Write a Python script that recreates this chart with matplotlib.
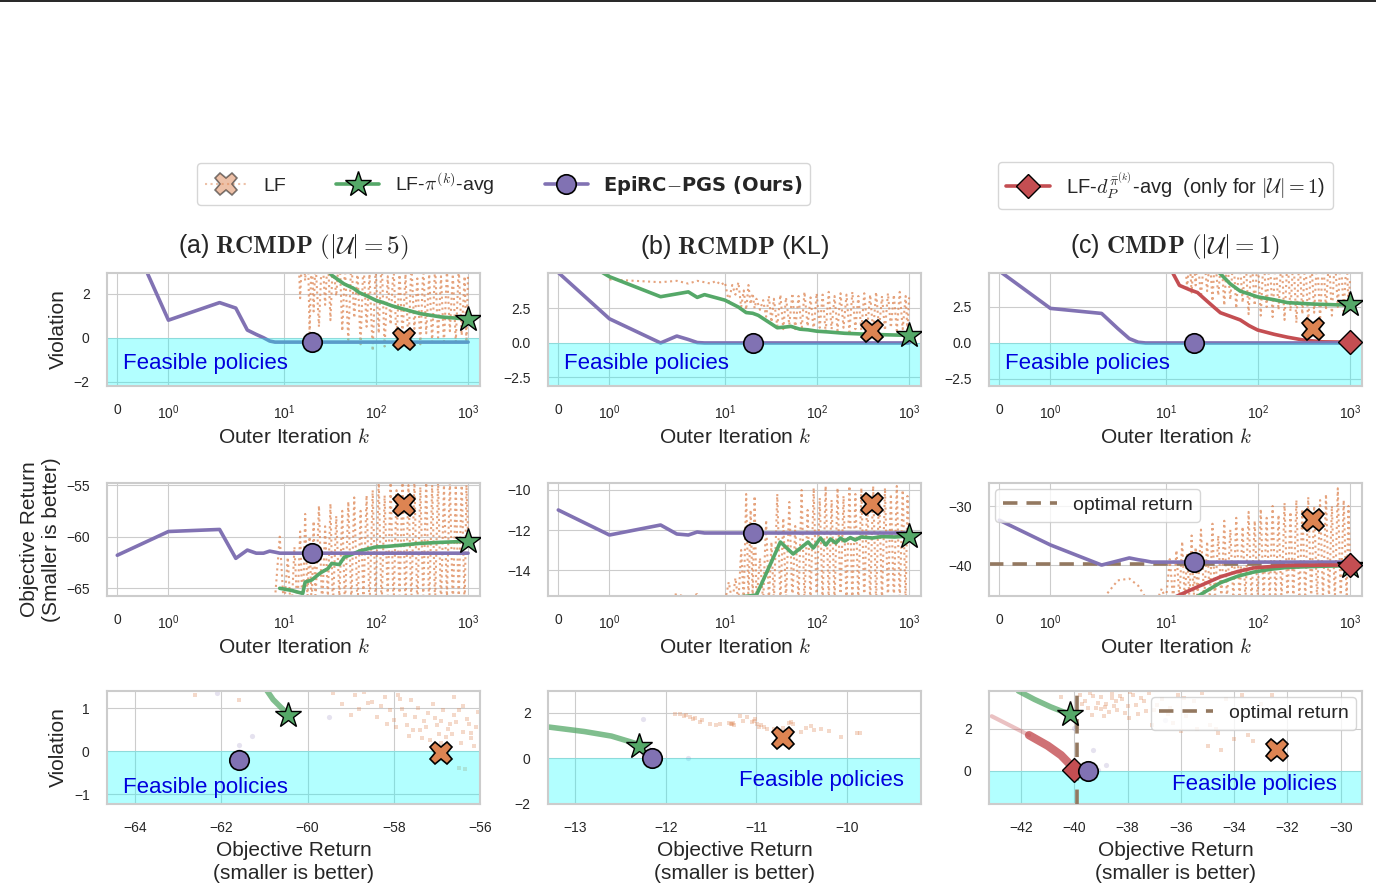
import matplotlib.pyplot as plt
import seaborn as sns
from matplotlib.lines import Line2D
from matplotlib.ticker import NullLocator

sns.set_style("whitegrid")
plt.rcParams['font.family'] = ['Liberation Sans', 'DejaVu Sans']
plt.rcParams['mathtext.fontset'] = 'cm'

# colours
LF_C = '#dd8452'
GREEN = '#55a868'
PURPLE = '#8172b3'
RED = '#c44e52'
BROWN = '#937860'
FEAS_TXT = '#0000dd'

# ---------------- data ----------------
# LF iterates (shared outer iteration grid)
lf_k = [1, 2, 3, 4, 5, 6, 7, 8, 9, 10,
        11, 12, 13, 14, 15, 16, 17, 18, 19, 20,
        21, 22, 24, 26, 28, 30, 32, 34, 37, 40,
        43, 46, 50, 54, 58, 63, 68, 73, 79, 85,
        92, 99, 107, 115, 124, 134, 144, 155, 167, 180,
        194, 209, 225, 242, 261, 281, 303, 326, 351, 378,
        407, 438, 472, 508, 547, 589, 634, 683, 735, 791,
        852, 917, 960, 1000]

a_lf_viol = [5, 5, 5, 5, 5, 5, 5, 5, 5, 5,
             5, 5, 5, 5, 1.8, 4.5, 2.6, 5, 0.2, 4,
             1.2, 3.5, 0.5, 4, 1.5, 3.8, 0.8, 3.5, 1.9, 4.0,
             0.3, 3.2, -0.1, 3.6, 0.9, 3.0, -0.3, 3.5, 0.5, 2.9,
             -0.6, 3.2, 0.2, 3.6, -0.4, 2.8, 0.6, 3.3, -0.2, 3.0,
             0.1, 2.9, -0.4, 3.4, 0.4, 2.7, -0.3, 3.2, 0.2, 2.9,
             -0.2, 3.3, 0.0, 2.8, -0.3, 3.1, 0.3, 2.9, -0.2, 3.2,
             0.1, 2.8, -0.2, 3.0]
a_lf_ret = [-70, -70, -70, -70, -70, -70, -70, -66, -60, -67,
            -62, -68, -61, -67, -59.5, -68, -57.8, -66, -60, -67,
            -58.5, -66.5, -57, -67, -59, -66, -56.8, -67, -58, -66,
            -57.5, -67, -56.6, -66.5, -56.2, -67, -57.5, -66, -56, -67,
            -55.5, -66.5, -54.5, -67, -56, -66, -54.5, -67, -55.5, -66,
            -54.5, -67, -55, -66.5, -54.5, -67, -55.2, -66, -54.5, -67,
            -55, -66.5, -54.5, -67, -55, -66, -54.5, -67, -55, -66.5,
            -54.5, -67, -55, -60]

b_lf_viol = [4.6, 4.4, 4.5, 4.3, 4.5, 4.4, 4.3, 4.5, 4.2, 4.4,
             3.0, 4.2, 3.5, 4.4, 2.6, 3.8, 2.4, 4.2, 2.8, 3.6,
             2.5, 3.2, 2.4, 3.1, 1.9, 3.4, 1.5, 3.2, 1.2, 3.5,
             1.0, 3.3, 1.3, 3.6, 1.0, 3.4, 0.9, 3.7, 1.2, 3.3,
             0.9, 3.6, 1.1, 3.5, 0.8, 3.7, 1.0, 3.4, 0.9, 3.6,
             1.1, 3.5, 0.8, 3.7, 1.0, 3.4, 0.9, 3.6, 1.1, 3.5,
             0.8, 3.7, 1.0, 3.4, 0.9, 3.6, 1.1, 3.5, 0.9, 3.7,
             1.0, 3.4, 0.9, 3.3]
b_lf_ret = [-15.5, -15.5, -15.2, -15.4, -15.2, -15.6, -15.5, -15.6, -15.4, -15.6,
            -14.6, -15.6, -14.4, -15.6, -13.0, -15.6, -10.2, -15.6, -11.0, -15.5,
            -10.3, -15.6, -13.4, -15.6, -11.5, -15.6, -12.6, -15.6, -10.2, -15.6,
            -11.4, -15.6, -10.6, -15.6, -11.8, -15.6, -10.0, -15.6, -11.0, -15.6,
            -9.9, -15.6, -10.4, -15.6, -9.8, -15.6, -10.5, -15.6, -9.9, -15.6,
            -10.3, -15.6, -9.8, -15.6, -10.2, -15.6, -9.9, -15.6, -10.4, -15.6,
            -9.8, -15.6, -10.1, -15.6, -9.9, -15.6, -10.2, -15.6, -9.8, -15.6,
            -10.0, -15.6, -10.3, -12.5]

c_lf_viol = [6, 6, 6, 6, 6, 6, 6, 6, 6, 6,
             6, 6, 6, 6, 6, 6, 3.8, 6, 3.5, 6,
             4.0, 6, 3.2, 6, 3.6, 6, 2.9, 6, 3.3, 6,
             2.6, 6, 3.0, 6, 2.4, 6, 2.8, 6, 2.0, 6,
             2.6, 6, 1.9, 6, 2.5, 6, 1.8, 6, 2.3, 6,
             1.6, 6, 2.2, 6, 1.4, 6, 2.0, 6, 1.3, 6,
             2.1, 6, 1.6, 6, 2.3, 6, 1.9, 6, 2.5, 6,
             2.2, 6, 2.6, 4.5]
c_lf_ret = [-47, -46, -42.6, -42.3, -43.5, -45.5, -47, -46, -44, -46,
            -39, -46, -37.5, -46, -36, -46, -38, -46, -35, -46,
            -37, -46, -34, -46, -36, -46, -33, -46, -35, -46,
            -32.5, -46, -34, -46, -32, -46, -33.5, -46, -31, -46,
            -32.5, -46, -30.5, -46, -32, -46, -30, -46, -31.5, -46,
            -29.5, -46, -31, -46, -29, -46, -30.5, -46, -28.5, -46,
            -30, -46, -29, -46, -28, -46, -30, -46, -27, -46,
            -29, -46, -30, -40]

# EpiRC-PGS iterates
pur_k = [0, 1, 2, 3, 4, 5, 6, 7, 8, 9, 10, 20, 1000]
a_pur_viol = [6.0, 0.8, 1.6, 1.35, 0.35, 0.15, 0.0, -0.15, -0.2, -0.2, -0.2, -0.2, -0.2]
a_pur_ret = [-61.8, -59.5, -59.3, -62.1, -61.3, -61.6, -61.6, -61.4, -61.5, -61.6, -61.6, -61.6, -61.6]
b_pur_viol = [5.1, 1.75, 0.0, 0.5, 0.25, 0.03, 0.0, 0.0, 0.0, 0.0, 0.0, 0.0, 0.0]
b_pur_ret = [-11.0, -12.25, -11.75, -12.2, -12.25, -12.1, -12.15, -12.15, -12.15, -12.15, -12.15, -12.15, -12.15]
c_pur_viol = [5.0, 2.4, 2.05, 1.0, 0.3, 0.05, 0.0, 0.0, 0.0, 0.0, 0.0, 0.0, 0.0]
c_pur_ret = [-32.4, -36.6, -40.0, -39.3, -38.8, -39.1, -39.3, -39.5, -39.5, -39.5, -39.5, -39.5, -39.5]

# LF-pi-avg
a_grn_vk = [9, 12, 16, 20, 25, 33, 40, 45, 57, 66, 80, 100, 120, 150, 200, 300, 500, 700, 1000]
a_grn_viol = [7.0, 6.0, 5.0, 4.2, 3.5, 2.85, 2.6, 2.45, 2.25, 2.05, 1.9, 1.7, 1.6, 1.45, 1.3, 1.1, 0.95, 0.9, 0.85]
a_grn_rk = [9, 12, 16, 17, 20, 25, 30, 33, 40, 45, 55, 66, 80, 100, 130, 150, 200, 300, 500, 700, 1000]
a_grn_ret = [-65.0, -65.2, -65.5, -64.4, -64.2, -63.5, -63.1, -62.6, -62.7, -62.0, -61.7,
             -61.4, -61.2, -61.0, -60.95, -60.9, -60.8, -60.65, -60.55, -60.5, -60.45]
b_grn_vk = [0, 1, 2, 4, 5, 6, 10, 14, 17, 20, 23, 30, 37, 45, 52, 65, 80, 100, 130, 200, 300, 500, 1000]
b_grn_viol = [7.0, 4.8, 3.35, 3.7, 3.3, 3.5, 3.1, 2.6, 2.2, 2.15, 2.0, 1.5, 1.1, 1.15, 1.2,
              1.0, 0.95, 0.85, 0.8, 0.7, 0.65, 0.6, 0.55]
b_grn_rk = [14, 18, 22, 40, 55, 80, 91, 109, 125, 140, 160, 180, 200, 230, 260, 300, 400, 500, 700, 1000]
b_grn_ret = [-15.35, -15.3, -15.25, -12.6, -13.2, -12.6, -12.9, -12.4, -12.75, -12.45, -12.65,
             -12.4, -12.55, -12.38, -12.5, -12.35, -12.4, -12.33, -12.35, -12.3]
c_grn_vk = [25, 39, 50, 64, 80, 99, 150, 209, 400, 700, 1000]
c_grn_viol = [6.0, 4.8, 4.1, 3.6, 3.4, 3.2, 3.0, 2.8, 2.7, 2.65, 2.65]
c_grn_rk = [18, 22, 39, 60, 89, 140, 209, 500, 1000]
c_grn_ret = [-47.0, -45.3, -43.0, -41.9, -41.2, -40.7, -40.4, -40.2, -40.1]

# LF-d-avg (CMDP only)
c_red_vk = [10, 12, 14, 18, 22, 28, 33, 39, 50, 64, 80, 99, 150, 209, 312, 500, 1000]
c_red_viol = [6.0, 4.8, 4.0, 3.7, 3.5, 2.9, 2.5, 2.1, 1.85, 1.6, 1.2, 0.9, 0.6, 0.4, 0.2, 0.08, 0.05]
c_red_rk = [10, 13, 22, 39, 60, 89, 140, 209, 500, 1000]
c_red_ret = [-47.0, -45.3, -43.7, -42.0, -41.1, -40.5, -40.25, -40.1, -40.02, -40.0]

# highlighted final points: (k, violation, return)
a_lf_mark = (200, -0.05, -56.9)
b_lf_mark = (400, 0.9, -10.7)
c_lf_mark = (400, 1.0, -32.4)
a_grn_mark = (1000, 0.85, -60.45)
b_grn_mark = (1000, 0.55, -12.3)
c_grn_mark = (1000, 2.7, -40.15)
a_pur_mark = (20, -0.2, -61.6)
b_pur_mark = (20, 0.0, -12.15)
c_pur_mark = (20, 0.0, -39.5)
c_red_mark = (1000, 0.05, -40.0)

optimal_return = -39.9

# return-violation clouds (bottom row)
a_cloud_x = [-62.6, -61.6, -59.4, -59.2, -58.9, -58.8, -58.6, -58.4, -58.2, -58.0,
             -57.8, -57.6, -57.4, -57.2, -57.1, -56.8, -56.7, -56.5, -56.4, -56.3,
             -56.2, -56.1, -58.3, -57.9, -57.5, -57.0, -56.6, -59.0, -58.7, -56.9,
             -57.7, -57.3, -56.95, -56.45, -56.15, -58.1, -57.65, -56.6, -56.5, -56.35,
             -57.95, -57.75, -57.45, -57.25, -57.05, -56.85, -56.65, -56.25, -56.05, -58.5,
             -57.35, -57.15, -56.75, -56.55, -56.4, -57.85, -58.15, -56.9, -56.2, -57.55]
a_cloud_y = [1.30, 1.20, 1.35, 1.10, 1.30, 0.97, 1.12, 0.80, 1.25, 0.72,
             0.99, 1.18, 0.49, 0.88, 1.10, 0.33, 0.64, 0.95, 0.45, 0.75,
             0.30, 0.55, 1.05, 1.30, 0.80, 0.60, 1.25, 0.85, 1.38, 0.20,
             0.60, 0.70, 0.40, 0.20, 0.12, 0.95, 0.35, 0.85, -0.40, -0.42,
             0.55, 0.85, 1.00, 0.55, 0.78, 0.95, 0.40, 0.62, 0.90, 1.15,
             0.30, 0.25, 0.52, 0.68, 1.05, 1.22, 0.62, 0.70, 0.42, 0.50]
b_cloud_x = [-11.84, -11.8, -11.73, -11.7, -11.62, -11.51, -11.4, -11.27, -11.25, -11.18,
             -11.1, -11.01, -10.99, -10.92, -10.81, -10.62, -10.6, -10.51, -10.4, -10.29,
             -10.07, -9.89, -9.85, -11.05, -10.95, -10.7, -11.3, -11.6,
             -11.78, -11.68, -11.28, -11.26, -11.03, -10.97, -10.88, -10.64, -10.45, -10.36,
             -11.15, -11.45, -11.9, -10.2]
b_cloud_y = [1.94, 1.85, 1.8, 1.75, 1.58, 1.52, 1.52, 1.52, 1.45, 1.87,
             1.8, 1.73, 1.52, 1.36, 1.29, 1.58, 1.5, 1.14, 1.43, 1.29,
             0.93, 1.1, 1.12, 1.6, 1.45, 1.35, 1.55, 1.7,
             1.9, 1.78, 1.5, 1.56, 1.65, 1.4, 1.3, 1.55, 1.35, 1.25,
             1.62, 1.48, 1.97, 1.2]
c_cloud_x = [-40.5, -39.8, -39.6, -39.4, -39.2, -39.0, -38.8, -38.6, -38.4, -38.2,
             -38.0, -37.8, -37.6, -37.4, -37.2, -37.0, -36.7, -36.4, -36.1, -35.8,
             -35.5, -35.2, -34.9, -34.6, -34.3, -34.0, -33.7, -33.3, -33.0, -32.6,
             -36.3, -37.1, -35.4, -38.9, -39.3, -38.5, -37.9, -36.0, -35.0, -34.5,
             -39.7, -39.5, -39.1, -38.7, -38.3, -37.7, -37.3, -38.1, -38.6, -39.0,
             -37.5, -38.45, -39.35, -38.85, -37.95, -36.9, -36.5, -35.9, -34.7, -33.5]
c_cloud_y = [3.5, 3.6, 3.3, 3.7, 3.0, 3.5, 3.2, 3.65, 2.9, 3.4,
             3.1, 3.6, 2.7, 3.3, 3.7, 2.9, 3.4, 3.0, 3.6, 2.6,
             3.3, 3.7, 2.2, 1.8, 3.4, 1.5, 3.6, 1.4, 3.2, 3.6,
             2.3, 2.2, 2.0, 2.6, 3.55, 3.1, 3.75, 1.9, 1.2, 1.0,
             3.2, 3.0, 3.25, 2.8, 3.55, 3.15, 2.85, 2.75, 3.45, 2.95,
             3.45, 3.3, 2.65, 3.05, 2.5, 3.15, 2.7, 3.45, 2.0, 1.7]
a_band_x = [-60.95, -60.8, -60.6, -60.45]
a_band_y = [1.42, 1.2, 1.0, 0.86]
b_band_x = [-13.3, -12.9, -12.6, -12.3]
b_band_y = [1.38, 1.18, 0.98, 0.62]
c_band_x = [-42.1, -41.5, -40.9, -40.2]
c_band_y = [3.8, 3.4, 3.05, 2.7]
c_red_band_x = [-43.1, -42.4, -41.7, -41.0, -40.5, -40.0]
c_red_band_y = [2.6, 2.15, 1.7, 1.2, 0.75, 0.1]

titles = [r'(a) $\mathbf{RCMDP}$ $(|\mathcal{U}|=5)$',
          r'(b) $\mathbf{RCMDP}$ (KL)',
          r'(c) $\mathbf{CMDP}$ $(|\mathcal{U}|=1)$']

# ---------------- figure ----------------
fig = plt.figure(figsize=(13.76, 8.88), dpi=100)
fig.add_artist(Line2D([0, 1], [0.9985, 0.9985], transform=fig.transFigure, color='black', lw=1.2))

col_left = [0.0778, 0.3983, 0.7188]
col_w = 0.2711
row_bottom = [0.5653, 0.3288, 0.0946]
row_h = 0.1273

viol_ylim = [(-2.2, 2.95), (-3.12, 5.07), (-2.99, 4.86)]
ret_ylim = [(-65.75, -54.8), (-15.3, -9.65), (-45.25, -26.1)]
viol_ticks = [[-2, 0, 2], [-2.5, 0, 2.5], [-2.5, 0, 2.5]]
ret_ticks = [[-65, -60, -55], [-14, -12, -10], [-40, -30]]
sc_xlim = [(-64.65, -56.0), (-13.3, -9.18), (-43.2, -29.2)]
sc_ylim = [(-1.23, 1.4), (-2.0, 2.96), (-1.57, 3.8)]
sc_xticks = [[-64, -62, -60, -58, -56], [-13, -12, -11, -10], [-42, -40, -38, -36, -34, -32, -30]]
sc_yticks = [[-1, 0, 1], [-2, 0, 2], [0, 2]]

lf_viol = [a_lf_viol, b_lf_viol, c_lf_viol]
lf_ret = [a_lf_ret, b_lf_ret, c_lf_ret]
pur_viol = [a_pur_viol, b_pur_viol, c_pur_viol]
pur_ret = [a_pur_ret, b_pur_ret, c_pur_ret]
grn = [(a_grn_vk, a_grn_viol, a_grn_rk, a_grn_ret),
       (b_grn_vk, b_grn_viol, b_grn_rk, b_grn_ret),
       (c_grn_vk, c_grn_viol, c_grn_rk, c_grn_ret)]
lf_mark = [a_lf_mark, b_lf_mark, c_lf_mark]
grn_mark = [a_grn_mark, b_grn_mark, c_grn_mark]
pur_mark = [a_pur_mark, b_pur_mark, c_pur_mark]
clouds = [(a_cloud_x, a_cloud_y), (b_cloud_x, b_cloud_y), (c_cloud_x, c_cloud_y)]
bands = [(a_band_x, a_band_y), (b_band_x, b_band_y), (c_band_x, c_band_y)]

LBL = 15
TICK = 10


def style_axes(ax):
    ax.tick_params(labelsize=TICK, pad=9, colors='.15')
    for s in ax.spines.values():
        s.set_color('.8')
        s.set_linewidth(1.5)


def time_axis(ax):
    ax.set_xscale('symlog', linthresh=2)
    ax.set_xlim(-0.2, 1350)
    ax.set_xticks([0, 1, 10, 100, 1000])
    ax.xaxis.set_minor_locator(NullLocator())
    ax.set_xlabel('Outer Iteration $k$', fontsize=LBL)


def markers(ax, j, idx):
    # idx: 1 -> violation, 2 -> return
    ax.plot(lf_mark[j][0], lf_mark[j][idx], marker='X', ms=16, mfc=LF_C, mec='black', mew=1.2, ls='none', zorder=5)
    ax.plot(grn_mark[j][0], grn_mark[j][idx], marker='*', ms=19, mfc=GREEN, mec='black', mew=1.0, ls='none', zorder=5)
    ax.plot(pur_mark[j][0], pur_mark[j][idx], marker='o', ms=14, mfc=PURPLE, mec='black', mew=1.2, ls='none', zorder=5)
    if j == 2:
        ax.plot(c_red_mark[0], c_red_mark[idx], marker='D', ms=12, mfc=RED, mec='black', mew=1.0, ls='none', zorder=6)


for j in range(3):
    # ---- row 1: violation vs iteration
    ax = fig.add_axes([col_left[j], row_bottom[0], col_w, row_h])
    style_axes(ax)
    time_axis(ax)
    ax.plot(lf_k, lf_viol[j], ls=':', color=LF_C, alpha=0.75, lw=1.5, zorder=1.5)
    ax.plot(grn[j][0], grn[j][1], color=GREEN, lw=2.6, zorder=2)
    if j == 2:
        ax.plot(c_red_vk, c_red_viol, color=RED, lw=2.6, zorder=2)
    ax.plot(pur_k, pur_viol[j], color=PURPLE, lw=2.6, zorder=2)
    ax.axhspan(-20, 0, color='cyan', alpha=0.3, lw=0, zorder=2.5)
    markers(ax, j, 1)
    ax.set_ylim(*viol_ylim[j])
    ax.set_yticks(viol_ticks[j])
    ax.text(0.043, 0.2, 'Feasible policies', transform=ax.transAxes, fontsize=16,
            color=FEAS_TXT, va='center', ha='left', zorder=7)
    ax.set_title(titles[j], fontsize=18, pad=14)
    if j == 0:
        ax.set_ylabel('Violation', fontsize=LBL)

    # ---- row 2: objective return vs iteration
    ax = fig.add_axes([col_left[j], row_bottom[1], col_w, row_h])
    style_axes(ax)
    time_axis(ax)
    ax.plot(lf_k, lf_ret[j], ls=':', color=LF_C, alpha=0.75, lw=1.5, zorder=1.5)
    ax.plot(grn[j][2], grn[j][3], color=GREEN, lw=2.6, zorder=2)
    if j == 2:
        ax.plot(c_red_rk, c_red_ret, color=RED, lw=2.6, zorder=2.1)
        ax.axhline(optimal_return, color=BROWN, ls='--', lw=2.6, dashes=(4, 2.5), zorder=1.8,
                   label='optimal return')
        ax.legend(loc='upper left', fontsize=14, handlelength=2.8, framealpha=0.8,
                  borderaxespad=0.3)
    ax.plot(pur_k, pur_ret[j], color=PURPLE, lw=2.6, zorder=2)
    markers(ax, j, 2)
    ax.set_ylim(*ret_ylim[j])
    ax.set_yticks(ret_ticks[j])
    if j == 0:
        ax.set_ylabel('Objective Return\n(Smaller is better)', fontsize=LBL)

    # ---- row 3: violation vs return
    ax = fig.add_axes([col_left[j], row_bottom[2], col_w, row_h])
    style_axes(ax)
    ax.scatter(clouds[j][0], clouds[j][1], marker='s', s=11, color=LF_C, alpha=0.3, lw=0, zorder=1.5)
    ax.plot(bands[j][0], bands[j][1], color=GREEN, lw=4, alpha=0.75, solid_capstyle='round', zorder=2)
    if j == 2:
        ax.plot(c_red_band_x[:3], c_red_band_y[:3], color=RED, lw=3, alpha=0.35, zorder=2)
        ax.plot(c_red_band_x[2:], c_red_band_y[2:], color=RED, lw=6, alpha=0.8,
                solid_capstyle='round', zorder=2)
        ax.axvline(optimal_return, color=BROWN, ls='--', lw=2.6, dashes=(4, 2.5), zorder=3,
                   label='optimal return')
        ax.legend(loc='upper right', fontsize=14, handlelength=2.8, framealpha=0.8,
                  borderaxespad=0.3)
    ax.scatter(pur_ret[j], pur_viol[j], marker='o', s=14, color=PURPLE, alpha=0.2, lw=0, zorder=1.6)
    ax.axhspan(-20, 0, color='cyan', alpha=0.3, lw=0, zorder=2.5)
    ax.plot(lf_mark[j][2], lf_mark[j][1], marker='X', ms=16, mfc=LF_C, mec='black', mew=1.2, ls='none', zorder=5)
    ax.plot(grn_mark[j][2], grn_mark[j][1], marker='*', ms=19, mfc=GREEN, mec='black', mew=1.0, ls='none', zorder=5)
    if j == 2:
        ax.plot(c_red_mark[2], c_red_mark[1], marker='D', ms=12, mfc=RED, mec='black', mew=1.0, ls='none', zorder=5)
    ax.plot(pur_mark[j][2], pur_mark[j][1], marker='o', ms=14, mfc=PURPLE, mec='black', mew=1.2, ls='none', zorder=5)
    ax.set_xlim(*sc_xlim[j])
    ax.set_ylim(*sc_ylim[j])
    ax.set_xticks(sc_xticks[j])
    ax.set_yticks(sc_yticks[j])
    ax.set_xlabel('Objective Return\n(smaller is better)', fontsize=LBL, linespacing=1.3)
    if j == 0:
        ax.set_ylabel('Violation', fontsize=LBL)
        ax.text(0.043, 0.15, 'Feasible policies', transform=ax.transAxes, fontsize=16,
                color=FEAS_TXT, va='center', ha='left', zorder=7)
    elif j == 1:
        ax.text(0.954, 0.21, 'Feasible policies', transform=ax.transAxes, fontsize=16,
                color=FEAS_TXT, va='center', ha='right', zorder=7)
    else:
        ax.text(0.933, 0.17, 'Feasible policies', transform=ax.transAxes, fontsize=16,
                color=FEAS_TXT, va='center', ha='right', zorder=7)

# ---------------- legends ----------------
h_lf = Line2D([], [], color=LF_C, ls=':', lw=1.5, marker='X', ms=16, mfc=LF_C, mec='black',
              mew=1.2, alpha=0.5)
h_grn = Line2D([], [], color=GREEN, lw=2.6, marker='*', ms=19, mfc=GREEN, mec='black', mew=1.0)
h_pur = Line2D([], [], color=PURPLE, lw=2.6, marker='o', ms=14, mfc=PURPLE, mec='black', mew=1.2)
leg = fig.legend([h_lf, h_grn, h_pur],
                 ['LF', r'LF-$\pi^{(k)}$-avg', r'EpiRC$-$PGS (Ours)'],
                 loc='center', bbox_to_anchor=(0.366, 0.793), ncol=3, fontsize=14,
                 handlelength=2.2, columnspacing=2.6, frameon=True, edgecolor='.8')
leg.get_texts()[2].set_fontweight('bold')
leg.get_texts()[2].set_family('DejaVu Sans')

h_red = Line2D([], [], color=RED, lw=2.6, marker='D', ms=12, mfc=RED, mec='black', mew=1.0)
fig.legend([h_red], [r'LF-$d_P^{\bar{\pi}^{(k)}}$-avg  (only for $|\mathcal{U}|=1$)'],
           loc='center', bbox_to_anchor=(0.847, 0.791), fontsize=14.5, handlelength=2.2,
           frameon=True, edgecolor='.8')

plt.savefig('out.png', dpi=100)
